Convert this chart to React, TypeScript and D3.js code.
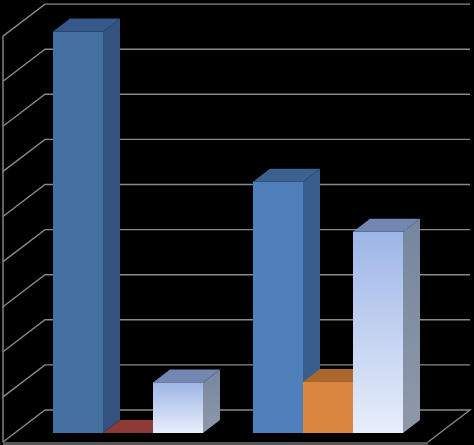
import React from "react";
import * as d3 from "d3";

const categories = ["A", "B"];
const seriesNames = ["S1", "S2", "S3"];
const s1Values = [8.9, 5.57];
const s2Values = [0, 1.13];
const s3Values = [1.12, 4.46];
const allValues = [s1Values, s2Values, s3Values];
const gridTicks = d3.range(0, 10);

const W = 474, H = 445;
const floorFrontY = 442;
const wallDX = 42, wallDY = -32;
const barDX = 17, barDY = -13;
const barBaseY = 433;
const unit = 45.1;

const x0 = d3.scaleBand<string>().domain(categories).range([28, 428]).paddingInner(0.25).paddingOuter(0.125);
const x1 = d3.scaleBand<string>().domain(seriesNames).range([0, x0.bandwidth()]);
// offset for grid: front plane of the walls
const yGrid = d3.scaleLinear().domain([0, 9]).range([floorFrontY, floorFrontY - 9 * unit]);
const yBar = d3.scaleLinear().domain([0, 9]).range([barBaseY, barBaseY - 9 * unit]);

type Pal = { front: string; side: string; top: string };
const palettes: Pal[][] = [
  [
    { front: "#44709f", side: "#33527f", top: "#35598a" },
    { front: "#4f80bc", side: "#375e8d", top: "#3c6290" },
  ],
  [
    { front: "#8b3a36", side: "#6f2c29", top: "#8b3a36" },
    { front: "#dc8740", side: "#a8652c", top: "#aa682f" },
  ],
  [
    { front: "url(#g3)", side: "url(#g3s)", top: "#7288b3" },
    { front: "url(#g3)", side: "url(#g3s)", top: "#7288b3" },
  ],
];

const line = d3.line();
const poly = (pts: [number, number][]) => line(pts)! + "Z";

export default function App() {
  const gridColor = "#8a8a8a";
  const left = 3;
  const right = 428;
  return (
    <svg width={W} height={H} viewBox={`0 0 ${W} ${H}`} style={{ position: "fixed", left: 0, top: 0, display: "block", background: "#000" }}>
      <defs>
        <linearGradient id="g3" x1="0" y1="0" x2="0" y2="1">
          <stop offset="0" stopColor="#9db6e6" />
          <stop offset="1" stopColor="#e8eefb" />
        </linearGradient>
        <linearGradient id="g3s" x1="0" y1="0" x2="0" y2="1">
          <stop offset="0" stopColor="#76869f" />
          <stop offset="1" stopColor="#8f99a8" />
        </linearGradient>
      </defs>
      <rect width={W} height={H} fill="#000" />
      {gridTicks.map((t) => (
        <g key={t} stroke={gridColor} strokeWidth={1.4} fill="none">
          {t > 0 && <path d={line([[left, yGrid(t)], [left + wallDX, yGrid(t) + wallDY], [right + wallDX, yGrid(t) + wallDY]])!} />}
          {t === 0 && <path d={line([[left, yGrid(0)], [left + wallDX, yGrid(0) + wallDY], [right + wallDX, yGrid(0) + wallDY], [right, yGrid(0)]])!} />}
        </g>
      ))}
      <line x1={left} x2={left} y1={yGrid(9)} y2={yGrid(0)} stroke={gridColor} strokeWidth={1.4} />
      <rect x={left} y={floorFrontY} width={right - left} height={3} fill="#565656" />
      {categories.map((c, ci) => (
        <g key={c}>
          {seriesNames.map((s, si) => {
            const v = allValues[si][ci];
            const xa = x0(c)! + x1(s)!;
            const xb = xa + x1.bandwidth();
            const yt = yBar(v);
            const p = palettes[si][ci];
            return (
              <g key={s}>
                <path d={poly([[xb, yt], [xb + barDX, yt + barDY], [xb + barDX, barBaseY + barDY], [xb, barBaseY]])} fill={p.side} />
                <path d={poly([[xa, yt], [xa + barDX, yt + barDY], [xb + barDX, yt + barDY], [xb, yt]])} fill={p.top} />
                {v > 0 && <rect x={xa} y={yt} width={xb - xa} height={barBaseY - yt} fill={p.front} />}
              </g>
            );
          })}
        </g>
      ))}
    </svg>
  );
}
